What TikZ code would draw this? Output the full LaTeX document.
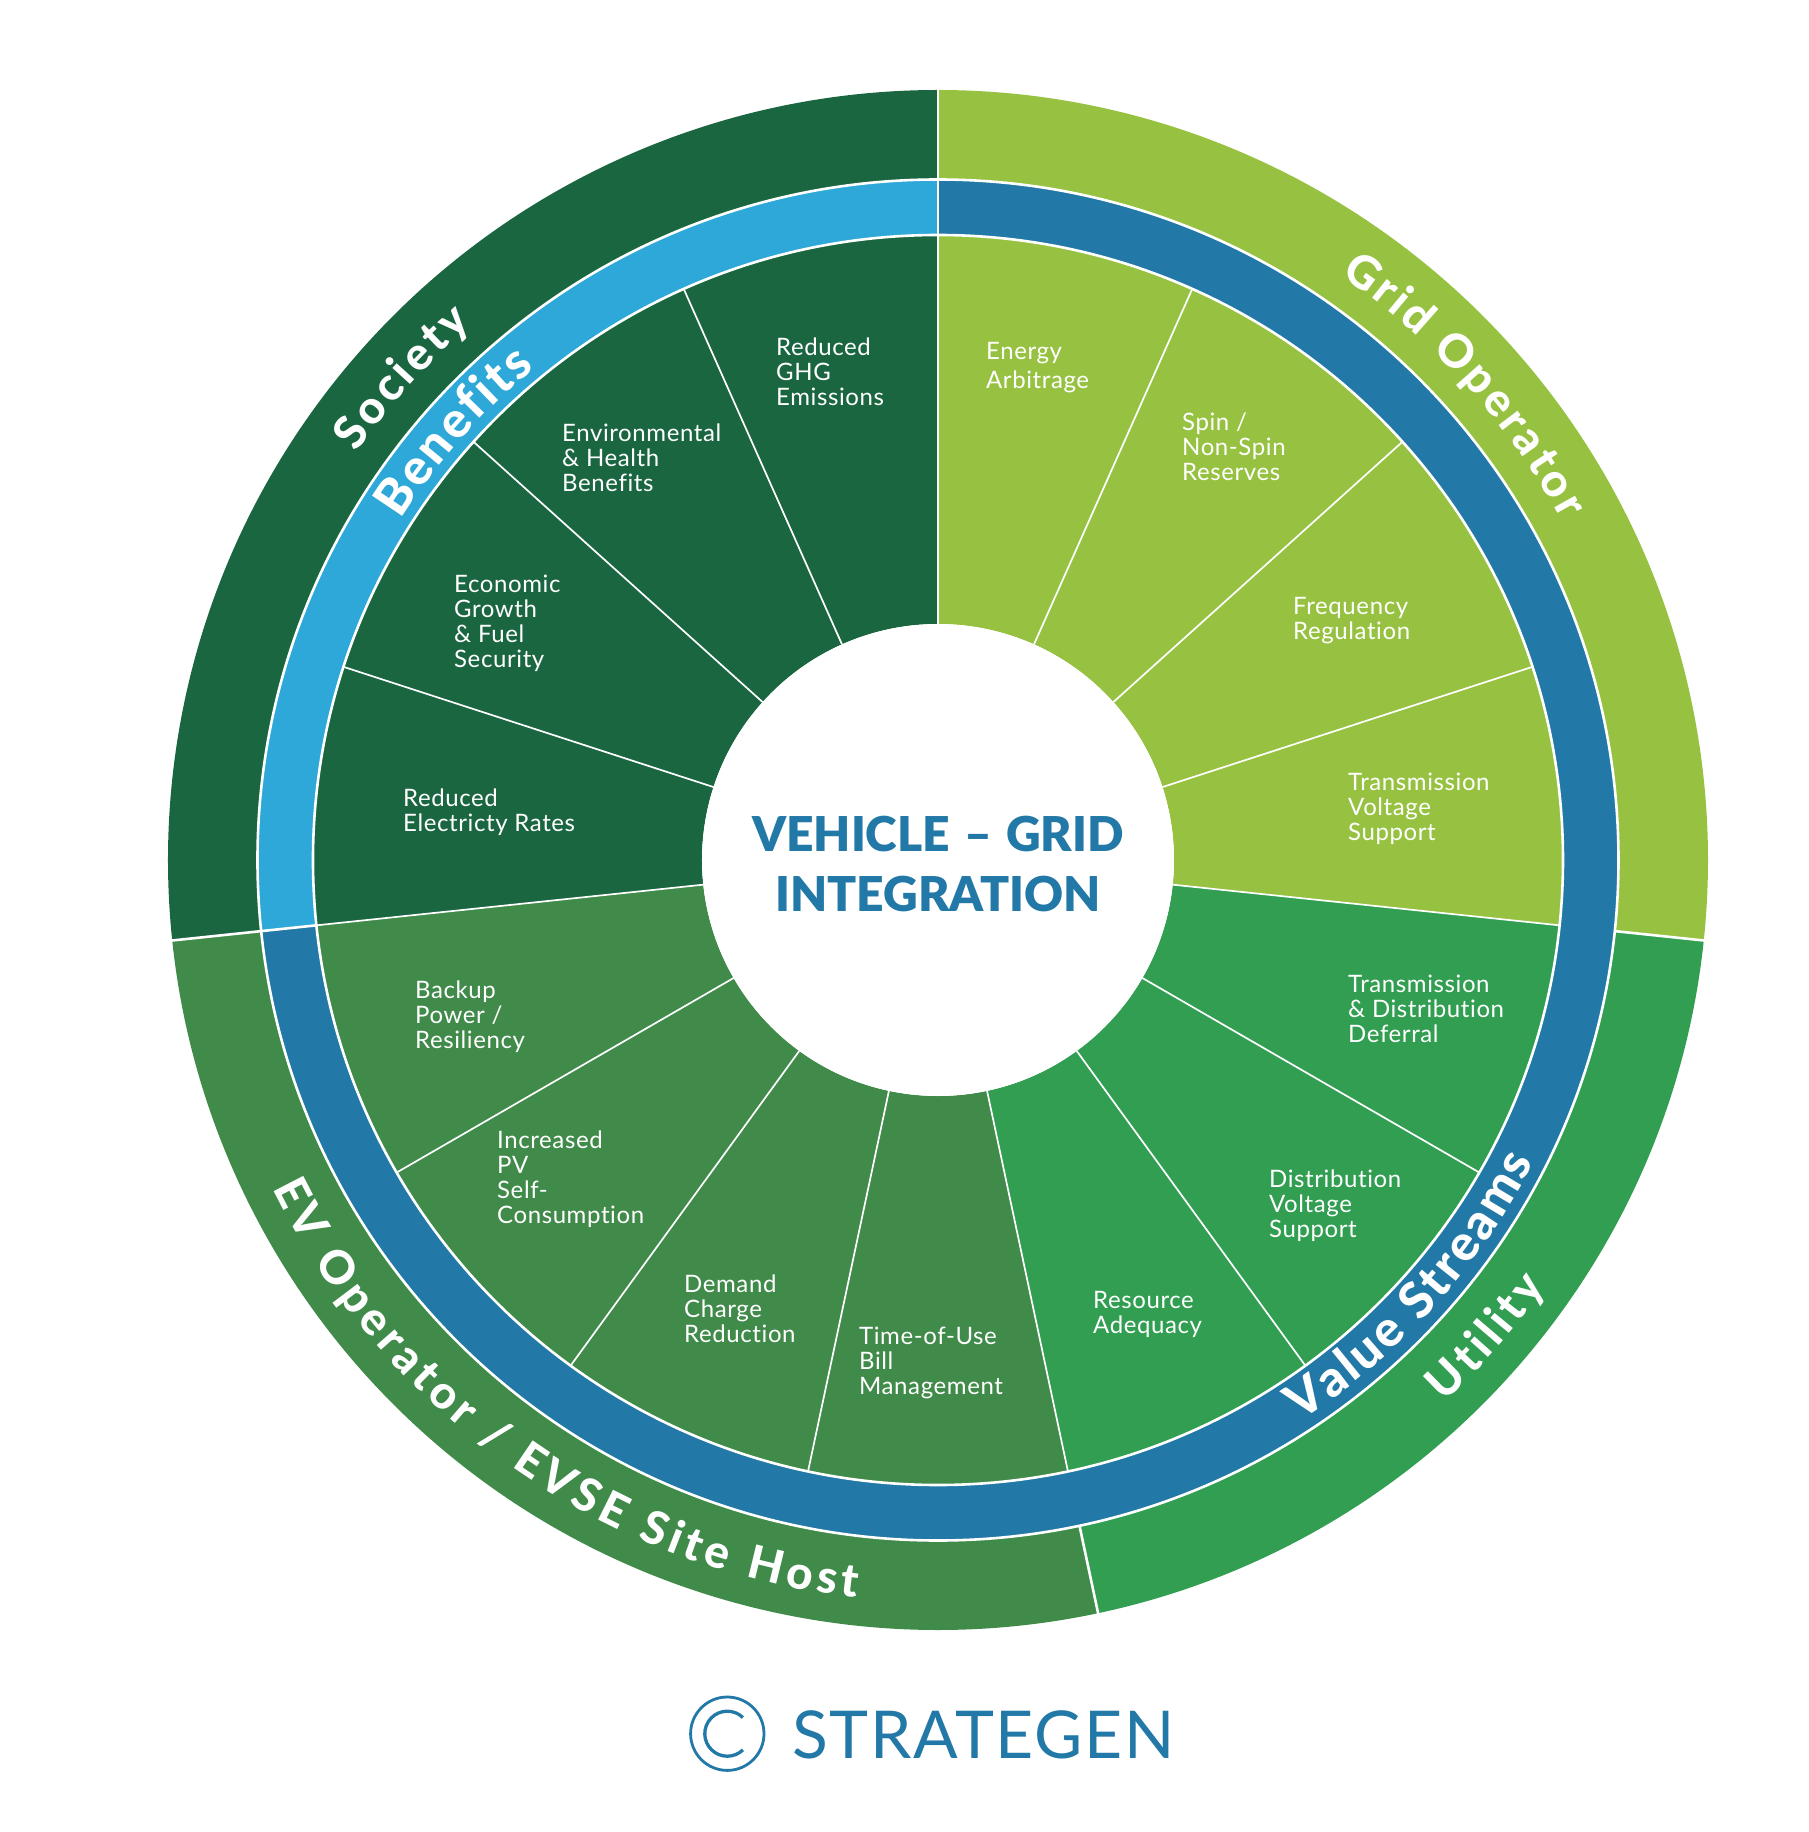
\documentclass[tikz,border=0pt]{standalone}
\usepackage{fontspec}
\setmainfont[LetterSpace=2.5,Ligatures=CommonOff]{Lato}
\newfontfamily\titlefont[Ligatures=CommonOff,BoldFont={Lato Black}]{Lato}
\newfontfamily\arcfont[Ligatures=CommonOff,BoldFont={Lato Heavy}]{Lato}
\newfontfamily\logofont[LetterSpace=2.5]{Lato}
\definecolor{cDark}{RGB}{26,102,64}
\definecolor{cMid}{RGB}{64,138,74}
\definecolor{cGreen}{RGB}{49,158,82}
\definecolor{cLime}{RGB}{151,194,65}
\definecolor{cBlue}{RGB}{34,120,166}
\definecolor{cCyan}{RGB}{46,168,216}
\newcommand{\annseg}[5]{% colour, inner r, outer r, from, to
  \fill[#1] (#4:#2pt) -- (#4:#3pt) arc[start angle=#4,end angle=#5,radius=#3pt] -- (#5:#2pt) arc[start angle=#5,end angle=#4,radius=#2pt] -- cycle;}
\newsavebox\chbox
\makeatletter
\newcommand{\chboxwidth}{\strip@pt\wd\chbox}
\makeatother
\newcommand{\measureletter}[2]{% size, letter
  \sbox\chbox{\pgfinterruptpicture\arcfont\bfseries\fontsize{#1}{#1}\selectfont #2\endpgfinterruptpicture}%
  \edef\cw{\chboxwidth}}
\newcommand{\arctext}[6]{% radius, centre angle, sign (1 clockwise, -1 counter), tracking, size, letters
  \gdef\arctot{0}%
  \foreach \lt in {#6}{%
    \measureletter{#5}{\lt}%
    \pgfmathparse{\arctot+\cw+#4}%
    \xdef\arctot{\pgfmathresult}%
  }%
  \pgfmathparse{-\arctot/2}\xdef\arcpos{\pgfmathresult}%
  \foreach \lt in {#6}{%
    \measureletter{#5}{\lt}%
    \pgfmathsetmacro\ca{#2-(#3)*(\arcpos+\cw/2+#4/2)/#1*57.29578}%
    \pgfmathsetmacro\cr{\ca-90*(#3)}%
    \node[bandletter,rotate=\cr,font=\arcfont\bfseries\fontsize{#5}{#5}\selectfont] at (\ca:#1pt) {\lt};
    \pgfmathparse{\arcpos+\cw+#4}\xdef\arcpos{\pgfmathresult}%
  }%
}
\tikzset{
  x=1pt,y=1pt,
  bandletter/.style={anchor=base,inner sep=0pt,text=white},
  celltext/.style={anchor=west,inner sep=0pt,text=white,align=left,font=\fontsize{24}{25}\selectfont},
  spoke/.style={draw=white,line width=1.7pt},
  bandspoke/.style={draw=white,line width=2.6pt},
  ringedge/.style={draw=white,line width=2.6pt},
  title/.style={text=cBlue,align=center,inner sep=0pt,font=\titlefont\bfseries\fontsize{48}{60}\selectfont},
}
\begin{document}
\begin{tikzpicture}
\useasboundingbox (-938,-972) rectangle (870,860);
% outer band
\annseg{cLime}{680}{770}{-6}{90}
\annseg{cGreen}{680}{770}{-78}{-6}
\annseg{cMid}{680}{770}{-174}{-78}
\annseg{cDark}{680}{770}{90}{186}
% ring
\annseg{cBlue}{625}{680}{-174}{90}
\annseg{cCyan}{625}{680}{90}{186}
% inner wedges
\annseg{cLime}{236}{625}{-6}{90}
\annseg{cGreen}{236}{625}{-78}{-6}
\annseg{cMid}{236}{625}{-174}{-78}
\annseg{cDark}{236}{625}{90}{186}
% ring edges
\draw[ringedge] (0,0) circle[radius=680.5pt];
\draw[ringedge] (0,0) circle[radius=625pt];
% spokes
\foreach \a in {90,66,42,18,-6,-30,-54,-78,-102,-126,-150,-174,162,138,114}
  \draw[spoke] (\a:236pt) -- (\a:625pt);
\foreach \a in {90,-6,-78,-174}
  \draw[bandspoke] (\a:680.5pt) -- (\a:771pt);
\foreach \a in {90,-174}
  \draw[bandspoke] (\a:625pt) -- (\a:680.5pt);
% hub
\fill[white] (0,0) circle[radius=236pt];
\node[title] (hub) at (0,-4) {VEHICLE\hspace{3pt} – \hspace{3pt}GRID\\INTEGRATION};
% cell labels
\node[celltext,font=\fontsize{24}{29}\selectfont] (c1) at (48,492) {Energy\\Arbitrage};
\node[celltext] (c2) at (244,413) {Spin /\\Non-Spin\\Reserves};
\node[celltext] (c3) at (355,239) {Frequency\\Regulation};
\node[celltext] (c4) at (410,51) {Transmission\\Voltage\\Support};
\node[celltext] (c5) at (410,-149) {Transmission\\\& Distribution\\Deferral};
\node[celltext] (c6) at (331,-346) {Distribution\\Voltage\\Support};
\node[celltext] (c7) at (155,-454) {Resource\\Adequacy};
\node[celltext] (c8) at (-79,-503) {Time-of-Use\\Bill\\Management};
\node[celltext] (c9) at (-254,-449) {Demand\\Charge\\Reduction};
\node[celltext] (c10) at (-441,-319) {Increased\\PV\\Self-\\Consumption};
\node[celltext] (c11) at (-523,-157) {Backup\\Power /\\Resiliency};
\node[celltext] (c12) at (-535,48) {Reduced\\Electricty Rates};
\node[celltext] (c13) at (-484,237) {Economic\\Growth\\\& Fuel\\Security};
\node[celltext] (c14) at (-376,402) {Environmental\\\& Health\\Benefits};
\node[celltext] (c15) at (-162,488) {Reduced\\GHG\\Emissions};
% band labels
\arctext{710}{42}{1}{3.6}{46}{G,r,i,d,~,O,p,e,r,a,t,o,r}
\arctext{710}{138}{1}{3.5}{46}{S,o,c,i,e,t,y}
\arctext{742}{-41}{-1}{4.1}{46}{U,t,i,l,i,t,y}
\arctext{742}{235}{-1}{4.8}{46}{E,V,~,O,p,e,r,a,t,o,r,~,/,~,E,V,S,E,~,S,i,t,e,~,H,o,s,t}
\arctext{636}{138.5}{1}{2.4}{50}{B,e,n,e,f,i,t,s}
\arctext{668}{-42}{-1}{2.6}{50}{V,a,l,u,e,~,S,t,r,e,a,m,s}
% logo
\draw[cBlue,line width=2.8pt] (-210.7,-873.7) circle[radius=36.7pt];
\draw[cBlue,line width=3.3pt] (-210.7,-873.7) ++(46:22.5pt) arc[start angle=46,end angle=314,radius=22.5pt];
\node[text=cBlue,inner sep=0pt,anchor=west,font=\logofont\fontsize{66}{66}\selectfont] (logo) at (-146,-875) {STRATEGEN};
\end{tikzpicture}
\end{document}
